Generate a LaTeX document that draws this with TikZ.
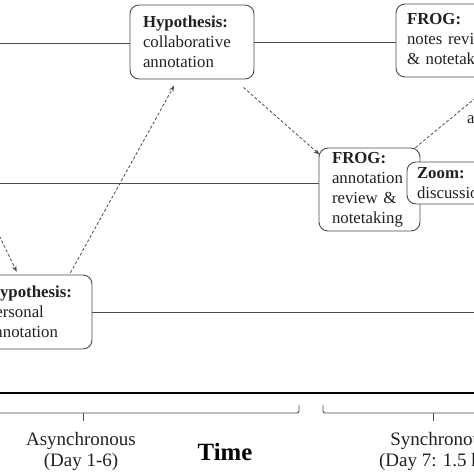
\documentclass[tikz,border=0pt]{standalone}
\usepackage{fontspec}
\setmainfont{Liberation Serif}
\usetikzlibrary{arrows.meta,calc}

\newlength{\du}
\setlength{\du}{1pt}
\definecolor{linegray}{rgb}{0.300000, 0.300000, 0.300000}
\definecolor{inkgray}{rgb}{0.130000, 0.130000, 0.130000}

\tikzset{
  stage/.style={draw=linegray, line width=0.9\du, rounded corners=9\du, fill=white,
    align=left, inner xsep=0pt, inner ysep=0pt, text=inkgray,
    font=\fontsize{16.8}{20}\selectfont},
  lane/.style={draw=linegray, line width=1\du},
  flow/.style={draw=linegray, line width=0.8\du, dash pattern=on 3pt off 2pt,
    -{Stealth[length=6pt,width=4.5pt]}},
  timeaxis/.style={draw=black, line width=2\du},
  bracket/.style={draw=linegray, line width=0.9\du, rounded corners=2\du},
  period/.style={align=center, text=inkgray, font=\fontsize{19}{21}\selectfont},
}

\begin{document}
\begin{tikzpicture}[x=\du, y=-\du]
\useasboundingbox (0,0) rectangle (474,474);
\clip (0,0) rectangle (474,474);

% stages
\node[stage, minimum width=124\du, minimum height=74\du, text width=98\du] (hypcollab) at (192,42)
  {\textbf{Hypothesis:}\\collaborative\\annotation};
\node[stage, minimum width=112\du, minimum height=73\du, text width=90\du] (frognotes) at (452,40.5)
  {\textbf{FROG:}\\notes review\\\& notetaking};
\node[stage, minimum width=101\du, minimum height=83\du, text width=75\du] (frogann) at (369.5,189.5)
  {\textbf{FROG:}\\annotation\\review \&\\notetaking};
\node[stage, minimum width=92\du, minimum height=42\du, text width=72\du] (zoomtalk) at (453,183)
  {\textbf{Zoom:}\\discussion};
\node[stage, minimum width=118\du, minimum height=74\du, text width=92\du] (hyppers) at (33,312)
  {\textbf{Hypothesis:}\\personal\\annotation};

% lanes
\coordinate (toplane) at (-10,43);
\coordinate (midlane) at (-10,183);
\coordinate (botlane) at (490,312);
\draw[lane] (toplane) -- (toplane -| hypcollab.west);
\draw[lane] (hypcollab.east) -- (hypcollab.east -| frognotes.west);
\draw[lane] (midlane) -- (midlane -| frogann.west);
\draw[lane] (hyppers.east) -- (hyppers.east -| botlane);

% flows
\coordinate (ingoing) at (-18,200);
\coordinate (notesin) at (501,77);
\draw[flow, shorten >=3pt] (ingoing) -- ($(hyppers.north west)+(44.5,0)$);
\draw[flow, shorten <=2pt, shorten >=7pt] ($(hyppers.north east)+(-23,0)$) -- ($(hypcollab.south west)+(48,0)$);
\draw[flow, shorten <=12pt] ($(hypcollab.south east)+(-20,0)$) -- ($(frogann.north west)+(1,7)$);
\draw[flow] ($(frogann.north east)+(-5,0)$) -- (notesin);
\node[anchor=base west, text=inkgray, font=\fontsize{16.8}{20}\selectfont, inner sep=0pt] (flowlabel) at (467,123) {a};

% time axis
\coordinate (tstart) at (-10,393);
\coordinate (tend) at (490,393);
\draw[timeaxis] (tstart) -- (tend);
\draw[bracket] (299,405) -- (299,413) -- (-10,413);
\draw[bracket] (83,413) -- (83,421);
\draw[bracket] (323,405) -- (323,413) -- (490,413);
\draw[bracket] (433,413) -- (433,421);
\node[period] (async) at (81,451.5) {Asynchronous\\(Day 1-6)};
\node[period] (sync) at (440,451.5) {Synchronous\\(Day 7: 1.5 hrs)};
\node[text=black, font=\fontsize{24.8}{30}\selectfont\bfseries] (timelabel) at (225,452) {Time};
\end{tikzpicture}
\end{document}
